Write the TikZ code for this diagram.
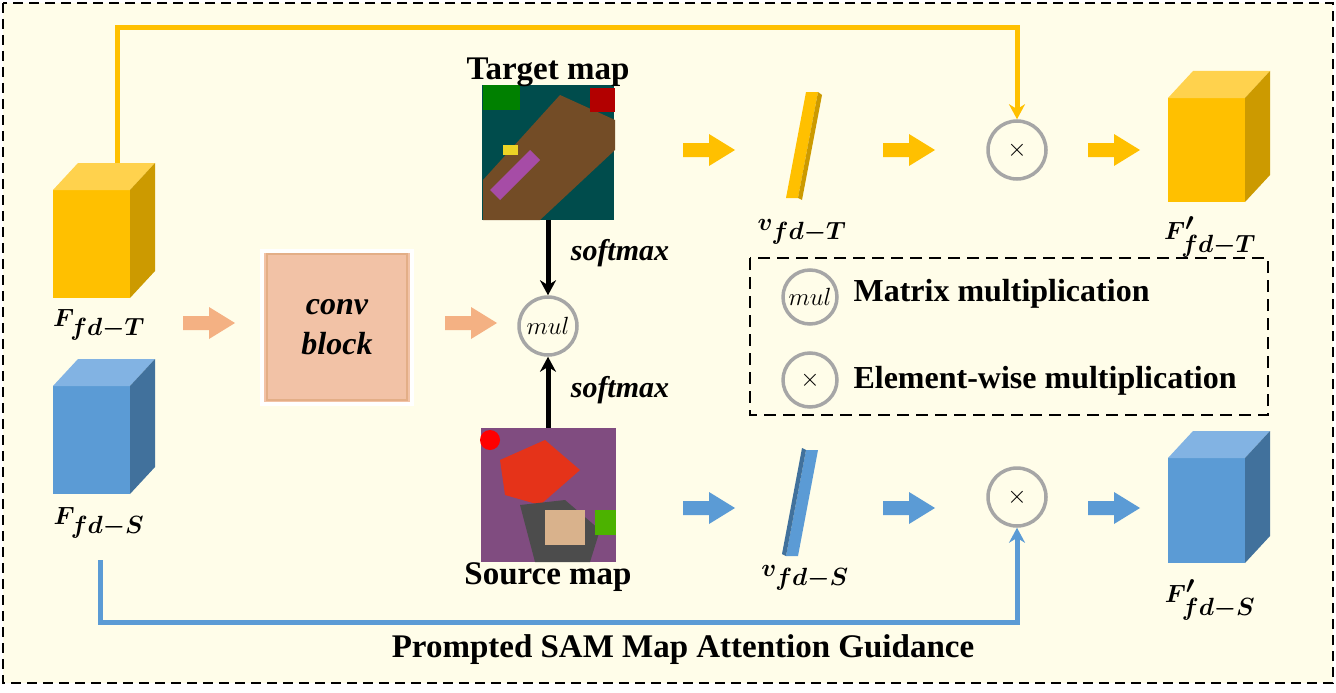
\documentclass[tikz,border=0pt]{standalone}
\usepackage{fontspec}
\setmainfont{Liberation Serif}
\usepackage{amsmath,bm}
\usetikzlibrary{arrows.meta,shadows}
\definecolor{bgc}{HTML}{FFFDE9}
\definecolor{ylf}{HTML}{FFC000}
\definecolor{ylt}{HTML}{FFD24D}
\definecolor{yls}{HTML}{CC9A00}
\definecolor{blf}{HTML}{5B9BD5}
\definecolor{blt}{HTML}{82B3E3}
\definecolor{bls}{HTML}{41719C}
\definecolor{org}{HTML}{F4B183}
\definecolor{convc}{HTML}{F2C2A6}
\newcommand\mycube[7]{%
 \fill[#5] (#1,#2) rectangle (#1+#3,#2+#4);
 \fill[#6] (#1,#2) -- (#1+25,#2-27) -- (#1+#3+25,#2-27) -- (#1+#3,#2) -- cycle;
 \fill[#7] (#1+#3,#2) -- (#1+#3+25,#2-27) -- (#1+#3+25,#2+#4-27) -- (#1+#3,#2+#4) -- cycle;}
\newcommand\fatarr[3]{\fill[#3,shift={(#1,#2)}] (-26,-7) -- (0,-7) -- (0,-16) -- (26,0) -- (0,16) -- (0,7) -- (-26,7) -- cycle;}
\begin{document}
\begin{tikzpicture}[x=1pt,y=-1pt,
  txt/.style={font=\fontsize{33}{38}\selectfont\bfseries},
  mtx/.style={font=\fontsize{38}{44}\selectfont},
  circ/.style={circle,draw=gray!70,line width=3.5pt,minimum size=58pt,inner sep=0pt,font=\fontsize{36}{40}\selectfont},
  lcirc/.style={circ,minimum size=54pt},
  guide/.style={line width=5pt,-{Stealth[length=15pt,width=16pt]}}]
\useasboundingbox (0,0) rectangle (1336,693);
\draw[fill=bgc,dashed,line width=1.6pt,dash pattern=on 10pt off 6pt] (3,3) rectangle (1333,683);
% guide lines
\node[circ] (xT) at (1017,150) {$\times$};
\node[circ] (xS) at (1017,497) {$\times$};
\coordinate (yS) at (117,165);
\coordinate (bS) at (100,560);
\draw[guide,draw=ylf] (yS) |- (560,28) -| (xT.north);
\draw[guide,draw=blf] (bS) |- (560,622) -| (xS.south);
% input cubes
\mycube{53}{190}{77}{108}{ylf}{ylt}{yls}
\mycube{53}{386}{77}{108}{blf}{blt}{bls}
\node[mtx] (lT) at (99,325) {$\bm{F_{fd-T}}$};
\node[mtx] (lS) at (99,523) {$\bm{F_{fd-S}}$};
% conv block
\fatarr{209}{323}{org}
\node[fill=convc,draw=white,line width=4pt,minimum width=150pt,minimum height=153pt,drop shadow={opacity=0.35},inner sep=0pt,font=\fontsize{32}{40}\selectfont\bfseries\itshape,align=center] (conv) at (337,327) {conv\\block};
\draw[convc!70!brown,line width=1.5pt] (267,254) rectangle (407,400);
\fatarr{471}{323}{org}
\node[circ] (mul) at (548,326) {$mul$};
% maps
\node[minimum width=132pt,minimum height=135pt,fill=teal!60!black,inner sep=0pt] (tmap) at (548,152) {};
\fill[brown!60!black] (483,180) -- (560,95) -- (615,120) -- (615,150) -- (540,220) -- (483,220) -- cycle;
\fill[green!50!black] (483,85) rectangle (520,110);
\fill[violet!70] (490,190) -- (530,150) -- (540,160) -- (500,200) -- cycle;
\fill[red!70!black] (590,88) rectangle (615,112);
\fill[yellow!70!brown] (503,145) rectangle (518,155);
\node[minimum width=135pt,minimum height=134pt,fill=gray!60!violet,inner sep=0pt] (smap) at (548,495) {};
\fill[red!60!brown] (500,460) -- (545,440) -- (580,470) -- (540,505) -- (505,495) -- cycle;
\fill[black!70] (520,505) -- (565,500) -- (600,530) -- (590,562) -- (535,562) -- cycle;
\fill[brown!60] (545,510) rectangle (585,545);
\fill[red] (490,440) circle (10pt);
\fill[green!40!olive] (595,510) rectangle (616,535);
\node[txt] at (548,72) {Target map};
\node[txt] at (548,577) {Source map};
\draw[line width=5pt,-{Stealth[length=15pt,width=16pt]}] (tmap.south) -- (mul.north);
\draw[line width=5pt,-{Stealth[length=15pt,width=16pt]}] (smap.north) -- (mul.south);
\node[txt,font=\fontsize{30}{34}\selectfont\bfseries\itshape] at (620,253) {softmax};
\node[txt,font=\fontsize{30}{34}\selectfont\bfseries\itshape] at (620,390) {softmax};
% top branch
\fatarr{709}{150}{ylf}
\fill[ylf] (786,198) -- (806,92) -- (818,92) -- (798,198) -- cycle;
\fill[yls] (798,198) -- (818,92) -- (822,95) -- (802,200) -- cycle;
\node[mtx] at (802,232) {$\bm{v_{fd-T}}$};
\fatarr{909}{150}{ylf}
\fatarr{1114}{150}{ylf}
\mycube{1168}{98}{77}{104}{ylf}{ylt}{yls}
\node[mtx] at (1210,237) {$\bm{F'_{fd-T}}$};
% bottom branch
\fatarr{709}{508}{blf}
\fill[blf] (786,556) -- (806,450) -- (818,450) -- (798,556) -- cycle;
\fill[bls] (786,556) -- (806,450) -- (802,448) -- (782,554) -- cycle;
\node[mtx] at (805,578) {$\bm{v_{fd-S}}$};
\fatarr{909}{508}{blf}
\fatarr{1114}{508}{blf}
\mycube{1168}{458}{77}{105}{blf}{blt}{bls}
\node[mtx] at (1210,600) {$\bm{F'_{fd-S}}$};
% legend
\draw[line width=2.2pt,dash pattern=on 12pt off 7pt] (750,258) rectangle (1268,415);
\node[lcirc] (lm) at (810,297) {$mul$};
\node[lcirc] (lx) at (810,380) {$\times$};
\node[txt,anchor=west,font=\fontsize{32}{38}\selectfont\bfseries] at (850,294) {Matrix multiplication};
\node[txt,anchor=west,font=\fontsize{32}{38}\selectfont\bfseries] at (850,381) {Element-wise multiplication};
\node[txt] at (683,650) {Prompted SAM Map Attention Guidance};
\end{tikzpicture}
\end{document}
